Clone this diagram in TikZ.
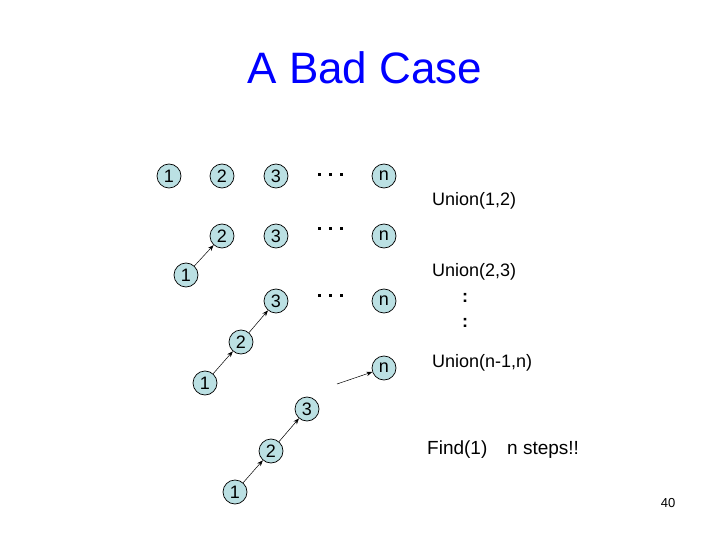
\documentclass[tikz,border=0pt]{standalone}
\usepackage{fontspec}
\setmainfont{Liberation Sans}
\usetikzlibrary{arrows.meta}
\definecolor{nodefill}{RGB}{187,224,227}
\definecolor{titleblue}{RGB}{0,0,255}
\begin{document}
\begin{tikzpicture}[x=1pt,y=-1pt,
  nd/.style={circle,draw=black,line width=0.7pt,fill=nodefill,minimum size=24pt,inner sep=0pt,font=\fontsize{18}{18}\selectfont},
  dotsq/.style={rectangle,fill=black,minimum size=3pt,inner sep=0pt},
  lnk/.style={line width=0.5pt,-{Stealth[length=6pt,width=4.5pt]}},
  lbl/.style={anchor=west,inner sep=0pt,font=\fontsize{18}{18}\selectfont}]
\useasboundingbox (0,0) rectangle (720,540);
\node[text=titleblue,font=\fontsize{44}{44}\selectfont] (title) at (365,68) {A Bad Case};
% row 1
\node[nd] (a1) at (169,176) {1};
\node[nd] (a2) at (222,176) {2};
\node[nd] (a3) at (276,176) {3};
\node[nd] (an) at (384,176) {n};
\node[dotsq] (ad1) at (319,175) {};
\node[dotsq] (ad2) at (330,175) {};
\node[dotsq] (ad3) at (341,175) {};
% row 2
\node[nd] (b1) at (186,275) {1};
\node[nd] (b2) at (222,236) {2};
\node[nd] (b3) at (276,236) {3};
\node[nd] (bn) at (384,236) {n};
\node[dotsq] (bd1) at (319,229) {};
\node[dotsq] (bd2) at (330,229) {};
\node[dotsq] (bd3) at (341,229) {};
\draw[lnk] (b1) -- (b2);
% row 3
\node[nd] (c1) at (205,383) {1};
\node[nd] (c2) at (241,342) {2};
\node[nd] (c3) at (276,301) {3};
\node[nd] (cn) at (384,301) {n};
\node[dotsq] (cd1) at (319,295) {};
\node[dotsq] (cd2) at (330,295) {};
\node[dotsq] (cd3) at (341,295) {};
\draw[lnk] (c1) -- (c2);
\draw[lnk] (c2) -- (c3);
% row 4
\node[nd] (d1) at (235,492) {1};
\node[nd] (d2) at (271,451) {2};
\node[nd] (d3) at (307,409) {3};
\node[nd] (dn) at (384,368) {n};
\coordinate (dfree) at (337,384);
\draw[lnk] (d1) -- (d2);
\draw[lnk] (d2) -- (d3);
\draw[lnk] (dfree) -- (dn);
% labels
\node[lbl] (u1) at (432,201) {Union(1,2)};
\node[lbl] (u2) at (432,272) {Union(2,3)};
\node[lbl] (c1a) at (462,298) {\textbf{:}};
\node[lbl] (c1b) at (462,323) {\textbf{:}};
\node[lbl] (u3) at (432,363) {Union(n-1,n)};
\node[anchor=west,inner sep=0pt,font=\fontsize{19}{19}\selectfont] (find) at (427,450) {Find(1)};
\node[anchor=west,inner sep=0pt,font=\fontsize{19}{19}\selectfont] (steps) at (507,450) {n steps!!};
\node[font=\fontsize{13}{13}\selectfont] (pg) at (668,503) {40};
\end{tikzpicture}
\end{document}
